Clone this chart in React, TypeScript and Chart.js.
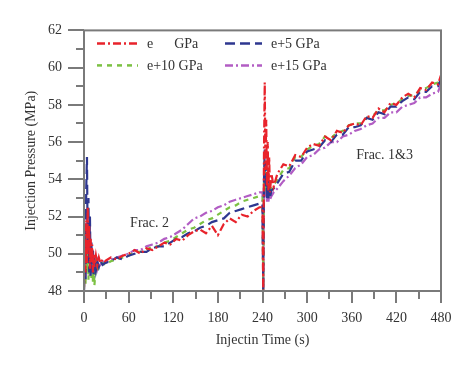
import React, { useEffect, useRef } from "react";
import { Chart, registerables } from "chart.js";

Chart.register(...registerables);

// ---------------- data ----------------
const times = [
  0, 1, 2, 3, 4, 5, 6, 7, 8, 9, 10, 11, 12, 13, 14, 16, 18, 20, 22, 25,
  28, 36, 44, 52, 60, 68, 76, 84, 92, 100, 108, 116, 124, 132, 140, 148, 156, 164, 172, 180, 188, 196, 204, 212, 220, 228, 236,
  240, 241, 242, 243, 244, 245, 246, 247, 248, 249, 250, 252, 255,
  260, 268, 276, 284, 292, 300, 308, 316, 324, 332, 340, 348, 356, 364, 372, 380, 388, 396, 404, 412, 420, 428, 436, 444, 452, 460, 468, 476, 480,
];

const pressureE = [
  48.2, 50.5, 49.0, 51.8, 49.5, 52.5, 50.0, 51.5, 49.2, 50.8, 49.5, 50.5, 49.0, 50.0, 49.3, 49.9, 49.4, 49.8, 49.5, 49.7,
  49.6, 49.8, 49.7, 49.9, 50.0, 50.2, 50.0, 50.3, 50.2, 50.4, 50.6, 50.5, 50.8, 50.7, 51.0, 51.2, 51.3, 51.1, 51.5, 51.0, 51.6, 51.9, 51.7, 52.1, 52.0, 52.3, 52.5,
  52.5, 48.0, 55.5, 59.2, 54.5, 57.2, 53.6, 56.0, 53.4, 55.2, 53.3, 54.3, 53.6,
  54.3, 54.8, 54.7, 55.3, 55.2, 55.7, 55.9, 55.8, 56.3, 56.1, 56.6, 56.5, 56.9, 57.0, 56.9, 57.4, 57.3, 57.8, 57.6, 58.1, 58.0, 58.4, 58.6, 58.4, 58.9, 58.8, 59.2, 59.1, 59.6,
];

const pressureE5 = [
  48.0, 51.0, 48.5, 53.5, 55.2, 50.0, 53.0, 49.0, 52.0, 48.8, 50.6, 49.0, 50.3, 48.9, 49.8, 49.1, 49.6, 49.3, 49.6, 49.4,
  49.5, 49.6, 49.8, 49.7, 49.9, 50.0, 50.1, 50.1, 50.3, 50.4, 50.4, 50.6, 50.8, 50.9, 51.1, 51.2, 51.4, 51.5, 51.7, 51.8, 51.9, 52.2, 52.3, 52.4, 52.5, 52.6, 52.7,
  52.7, 48.0, 54.0, 55.6, 53.5, 54.8, 53.0, 54.2, 52.9, 53.8, 53.0, 53.4, 53.5,
  53.8, 54.3, 54.4, 55.0, 55.0, 55.5, 55.6, 55.7, 56.1, 56.0, 56.4, 56.4, 56.8, 56.8, 56.9, 57.3, 57.2, 57.6, 57.5, 57.9, 57.9, 58.2, 58.4, 58.3, 58.7, 58.7, 59.0, 59.0, 59.4,
];

const pressureE10 = [
  48.1, 49.5, 48.3, 51.0, 49.0, 50.8, 48.6, 50.5, 48.9, 49.8, 48.7, 50.0, 48.5, 49.6, 48.3, 49.4, 49.0, 49.4, 49.3, 49.5,
  49.4, 49.6, 49.7, 49.8, 49.9, 50.1, 50.1, 50.2, 50.4, 50.4, 50.6, 50.7, 50.9, 51.1, 51.3, 51.4, 51.6, 51.8, 51.9, 52.1, 52.3, 52.5, 52.6, 52.8, 52.9, 53.0, 53.1,
  53.1, 48.0, 53.8, 55.0, 53.4, 54.4, 53.1, 53.9, 53.0, 53.6, 53.2, 53.5, 53.7,
  54.0, 54.5, 54.6, 55.2, 55.2, 55.6, 55.8, 55.9, 56.3, 56.2, 56.5, 56.6, 56.9, 57.0, 57.0, 57.3, 57.4, 57.7, 57.7, 58.0, 58.1, 58.3, 58.5, 58.5, 58.8, 58.9, 59.1, 59.2, 59.5,
];

const pressureE15 = [
  48.0, 50.0, 48.6, 52.3, 49.2, 51.6, 49.5, 51.0, 48.8, 50.4, 49.2, 50.1, 48.9, 49.8, 49.1, 49.7, 49.2, 49.5, 49.4, 49.6,
  49.5, 49.7, 49.8, 49.9, 50.0, 50.2, 50.2, 50.4, 50.5, 50.6, 50.8, 50.9, 51.1, 51.3, 51.6, 51.9, 52.0, 52.2, 52.3, 52.5, 52.6, 52.8, 52.9, 53.0, 53.1, 53.2, 53.3,
  53.3, 48.0, 53.5, 54.6, 53.0, 54.0, 52.8, 53.5, 52.8, 53.2, 52.9, 53.1, 53.3,
  53.5, 53.9, 54.2, 54.6, 54.8, 55.2, 55.3, 55.6, 55.7, 56.0, 56.0, 56.3, 56.4, 56.6, 56.7, 56.9, 57.0, 57.3, 57.3, 57.6, 57.6, 57.9, 58.0, 58.1, 58.4, 58.4, 58.6, 58.7, 59.1,
];

const seriesLabels = ["e      GPa", "e+5 GPa", "e+10 GPa", "e+15 GPa"];
const seriesValues = [pressureE, pressureE5, pressureE10, pressureE15];

const xTitle = "Injectin Time (s)";
const yTitle = "Injection Pressure (MPa)";
const xMin = 0, xMax = 480, xMajorStep = 60, xMinorStep = 30;
const yMin = 48, yMax = 62, yMajorStep = 2, yMinorStep = 1;

const annotations = [
  { text: "Frac. 2", t: 62, p: 51.65 },
  { text: "Frac. 1&3", t: 366, p: 55.3 },
];

// ---------------- styles ----------------
const seriesColors = ["#e8232b", "#2e3790", "#7cc143", "#b25dc4"];
const seriesDashes = [[8, 3, 2, 3], [10, 5], [5, 5], [8, 3, 2, 3]];
const FONT = "'Liberation Serif', 'Times New Roman', serif";
const TEXT = "#333333";
const AXIS = "#7a7a7a";

const decorPlugin = {
  id: "decor",
  afterDatasetsDraw(chart: any) {
    const { ctx, chartArea: a, scales } = chart;
    const xs = scales.x;
    const ys = scales.y;
    ctx.save();
    ctx.strokeStyle = AXIS;
    ctx.lineWidth = 2;
    ctx.setLineDash([]);
    ctx.strokeRect(a.left, a.top, a.right - a.left, a.bottom - a.top);
    // y ticks
    for (let v = yMin; v <= yMax; v += yMinorStep) {
      const py = Math.round(ys.getPixelForValue(v));
      const len = (v - yMin) % yMajorStep === 0 ? 16 : 8;
      ctx.beginPath();
      ctx.moveTo(a.left - len, py);
      ctx.lineTo(a.left, py);
      ctx.stroke();
    }
    // x ticks
    for (let t = xMin; t <= xMax; t += xMinorStep) {
      const px = Math.round(xs.getPixelForValue(t));
      const len = (t - xMin) % xMajorStep === 0 ? 12 : 8;
      ctx.beginPath();
      ctx.moveTo(px, a.bottom);
      ctx.lineTo(px, a.bottom + len);
      ctx.stroke();
    }
    // legend (2 x 2 inside the plot)
    ctx.font = `14px ${FONT}`;
    ctx.textBaseline = "middle";
    ctx.textAlign = "left";
    const colX = [13, 141];
    const lineLen = [41, 37];
    const rowY = [13, 35];
    chart.data.datasets.forEach((ds: any, i: number) => {
      const col = i % 2;
      const row = Math.floor(i / 2);
      const x0 = a.left + colX[col];
      const y0 = a.top + rowY[row];
      ctx.strokeStyle = ds.borderColor;
      ctx.lineWidth = 2.5;
      ctx.setLineDash(ds.borderDash);
      ctx.beginPath();
      ctx.moveTo(x0, y0);
      ctx.lineTo(x0 + lineLen[col], y0);
      ctx.stroke();
      ctx.setLineDash([]);
      ctx.fillStyle = TEXT;
      ctx.fillText(ds.label, x0 + lineLen[col] + 9, y0 + 1);
    });
    // annotations
    annotations.forEach((an) => {
      ctx.fillStyle = TEXT;
      ctx.fillText(an.text, xs.getPixelForValue(an.t), ys.getPixelForValue(an.p));
    });
    ctx.restore();
  },
};

export default function App() {
  const canvasRef = useRef<HTMLCanvasElement | null>(null);

  useEffect(() => {
    document.body.style.margin = "0";
    const canvas = canvasRef.current;
    if (!canvas) return;
    const chart = new Chart(canvas, {
      type: "line",
      data: {
        datasets: seriesValues.map((vals, i) => ({
          label: seriesLabels[i],
          data: times.map((t, k) => ({ x: t, y: vals[k] })),
          borderColor: seriesColors[i],
          backgroundColor: seriesColors[i],
          borderDash: seriesDashes[i],
          borderWidth: 2.2,
          pointRadius: 0,
          tension: 0,
          fill: false,
        })),
      },
      options: {
        animation: false,
        responsive: true,
        maintainAspectRatio: false,
        layout: { padding: { left: 0, top: 30, right: 33, bottom: 0 } },
        plugins: {
          legend: { display: false },
          tooltip: { enabled: false },
        },
        scales: {
          x: {
            type: "linear",
            min: xMin,
            max: xMax,
            afterFit: (s: any) => { s.height = 81; },
            grid: { display: false, drawTicks: false },
            border: { display: false },
            ticks: {
              stepSize: xMajorStep,
              padding: 19,
              color: TEXT,
              font: { family: FONT, size: 14 },
              maxRotation: 0,
            },
            title: {
              display: true,
              text: xTitle,
              color: TEXT,
              font: { family: FONT, size: 14 },
              padding: { top: 0, bottom: 23.6 },
            },
          },
          y: {
            type: "linear",
            min: yMin,
            max: yMax,
            afterFit: (s: any) => { s.width = 84; },
            grid: { display: false, drawTicks: false },
            border: { display: false },
            ticks: {
              stepSize: yMajorStep,
              padding: 22,
              color: TEXT,
              font: { family: FONT, size: 14 },
            },
            title: {
              display: true,
              text: yTitle,
              color: TEXT,
              font: { family: FONT, size: 14 },
              padding: { top: 22.6, bottom: 0 },
            },
          },
        },
      },
      plugins: [decorPlugin],
    });
    return () => chart.destroy();
  }, []);

  return (
    <div style={{ position: "absolute", left: 0, top: 0, width: 474, height: 372, background: "#ffffff" }}>
      <canvas ref={canvasRef} />
    </div>
  );
}
